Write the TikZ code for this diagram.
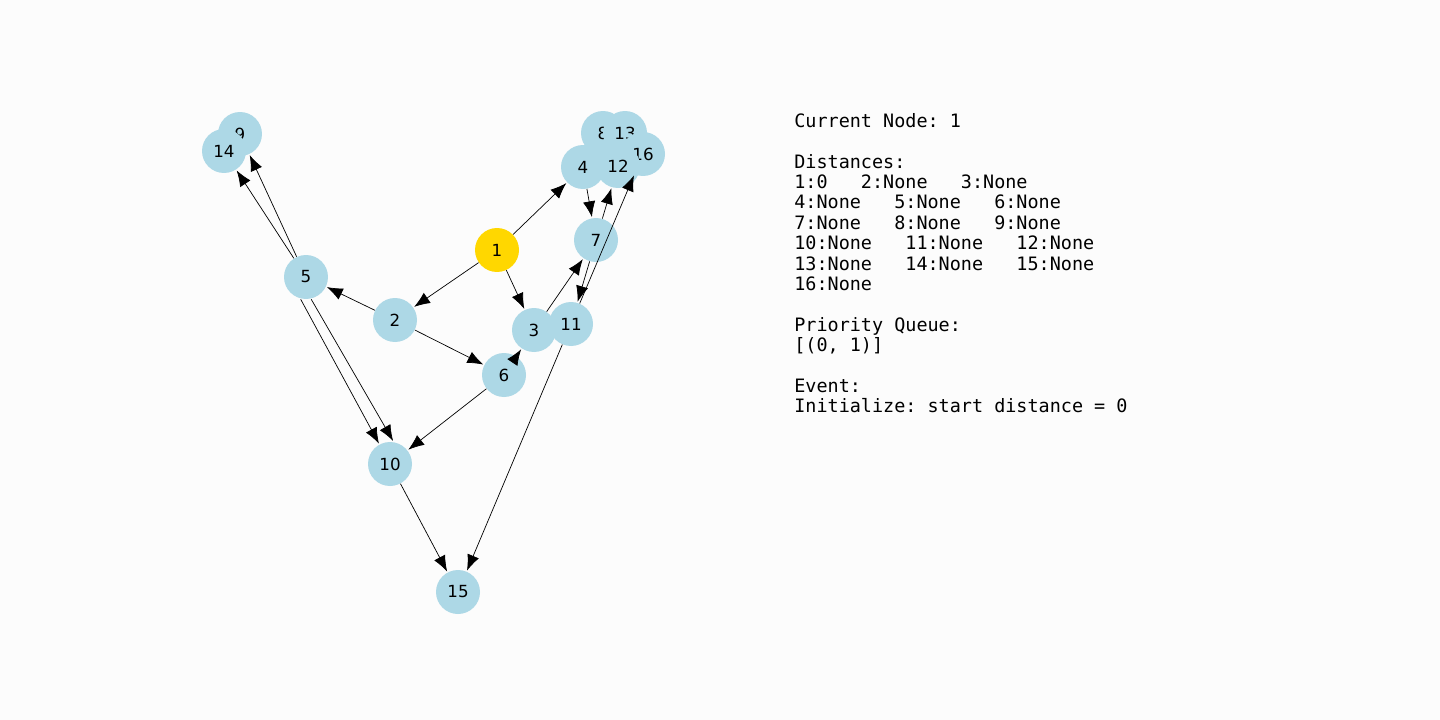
\documentclass[tikz,border=0pt]{standalone}
\usepackage{fontspec}
\setsansfont{DejaVu Sans}
\setmonofont{DejaVu Sans Mono}
\usetikzlibrary{arrows.meta}
\definecolor{vis}{HTML}{ADD8E6}
\definecolor{cur}{HTML}{FFD700}
\tikzset{
  vert/.style={circle, fill=vis, minimum size=0.88cm, inner sep=0pt, font=\sffamily\fontsize{9.5}{10}\selectfont},
  edge/.style={-{Latex[length=9pt,width=7pt]}, shorten >=0.5pt}
}
\begin{document}
\begin{tikzpicture}[x=0.02cm, y=-0.02cm]
      \fill[white!99!black] (0,0) rectangle (1440,720);
      % vertices
      \node[vert] (v9) at (240,134) {9};
      \node[vert] (v14) at (224,151) {14};
      \node[vert] (v8) at (603,133) {8};
      \node[vert] (v13) at (625,133) {13};
      \node[vert] (v16) at (643,154) {16};
      \node[vert] (v4) at (583,167) {4};
      \node[vert] (v12) at (618,166) {12};
      \node[vert, fill=cur] (v1) at (497,250) {1};
      \node[vert] (v7) at (596,240) {7};
      \node[vert] (v5) at (306,277) {5};
      \node[vert] (v2) at (395,320) {2};
      \node[vert] (v3) at (534,330) {3};
      \node[vert] (v11) at (571,324) {11};
      \node[vert] (v6) at (504,375) {6};
      \node[vert] (v10) at (390,464) {10};
      \node[vert] (v15) at (458,592) {15};

      % edges
      \draw[edge] (v1) -- (v4);
      \draw[edge] (v1) -- (v2);
      \draw[edge] (v1) -- (v3);
      \draw[edge] (v4) -- (v7);
      \draw[edge] (v7) -- (v12);
      \draw[edge] (v7) -- (v11);
      \draw[edge] (v11) -- (v16);
      \draw[edge] (v3) -- (v7);
      \draw[edge] (v6) -- (v3);
      \draw[edge] (v11) -- (v15);
      \draw[edge] (v2) -- (v5);
      \draw[edge] (v2) -- (v6);
      \draw[edge] (v6) -- (v10);
      \draw[edge] (v10) -- (v15);
      \draw[edge] (v5) -- (v14);
      \draw[edge] (v5) -- (v9);
      \draw[edge] ([xshift=-3pt]v5.south) -- (v10);
      \draw[edge] ([xshift=3pt]v5.south) -- ([xshift=2pt]v10.north);

      % state text
      \node[anchor=north west, align=left, inner sep=0pt,
            font=\ttfamily\fontsize{10.5}{11.6}\selectfont] (info) at (794,113)
      {Current Node: 1\\[11.6pt]
       Distances:\\
       1:0~~~2:None~~~3:None\\
       4:None~~~5:None~~~6:None\\
       7:None~~~8:None~~~9:None\\
       10:None~~~11:None~~~12:None\\
       13:None~~~14:None~~~15:None\\
       16:None\\[11.6pt]
       Priority Queue:\\
       {[}(0, 1)]\\[11.6pt]
       Event:\\
       Initialize: start distance = 0};
\end{tikzpicture}
\end{document}
